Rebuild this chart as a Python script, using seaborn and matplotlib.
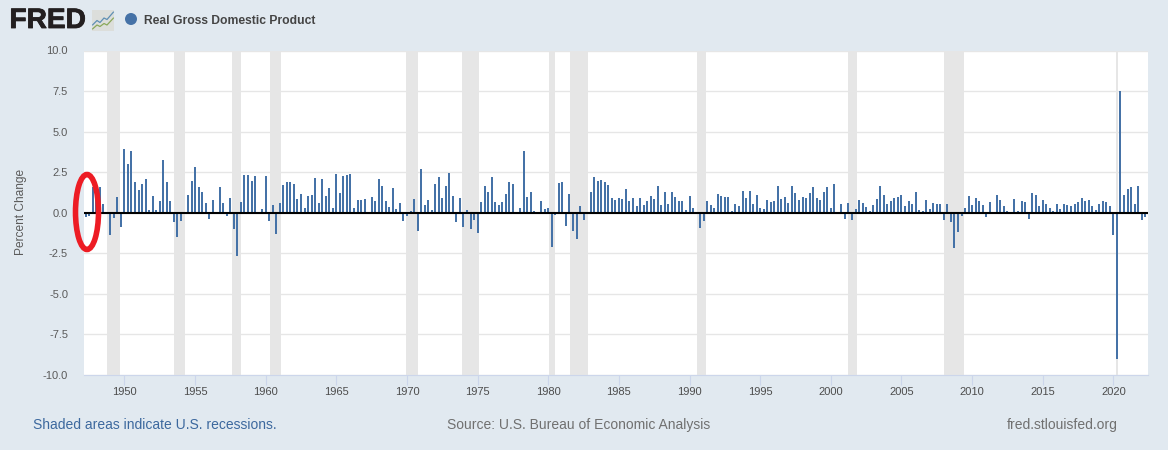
import matplotlib
matplotlib.use("Agg")
import matplotlib.pyplot as plt
import matplotlib.patheffects as pe
from matplotlib.patches import Ellipse, Rectangle, Circle
from matplotlib.lines import Line2D
import numpy as np
import pandas as pd
import seaborn as sns

SERIES_NAME = "Real Gross Domestic Product"
FIRST_QUARTER = "1947Q2"

# Quarter-over-quarter percent change, in chronological order
pct_1947_1968 = [
    -0.27, -0.20, 1.60, 1.50, 1.60, 0.55, 0.05, -1.40, -0.35, 1.00, -0.85,
    3.90, 3.00, 3.80, 1.90, 1.40, 1.75, 2.05, 0.20, 1.05, 0.20, 0.70, 3.25,
    1.90, 0.75, -0.60, -1.50, -0.50, 0.05, 1.10, 1.95, 2.85, 1.60, 1.30, 0.60,
    -0.40, 0.80, -0.10, 1.60, 0.60, -0.20, 0.90, -1.00, -2.65, 0.65, 2.30,
    2.30, 1.95, 2.25, 0.05, 0.25, 2.25, -0.50, 0.45, -1.30, 0.60, 1.70, 1.90,
    1.90, 1.75, 0.85, 1.15, 0.30, 1.05, 1.10, 2.15, 0.60, 2.10, 1.05, 1.55,
    0.30, 2.40, 1.20, 2.25, 2.30, 2.40, 0.30, 0.80, 0.80, 0.85, 0.05, 0.95,
    0.75, 2.05, 1.66, 0.75, 0.37,
]
pct_1969_1995 = [
    1.54, 0.25, 0.60, -0.50, -0.18, 0.12, 0.86, -1.10, 2.70, 0.49, 0.80, 0.18,
    1.78, 2.20, 0.92, 1.66, 2.46, 1.05, -0.55, 0.92, -0.86, 0.18, -0.98, -0.43,
    -1.23, 0.68, 1.66, 1.29, 2.20, 0.68, 0.49, 0.68, 1.17, 1.90, 1.78, 0.03,
    0.30, 3.80, 0.98, 1.29, 0.12, 0.03, 0.74, 0.25, 0.30, -2.10, -0.12, 1.84,
    1.90, -0.80, 1.17, -1.10, -1.60, 0.43, -0.43, 0.03, 1.29, 2.20, 1.97, 2.03,
    1.90, 1.72, 0.92, 0.80, 0.92, 0.86, 1.47, 0.74, 0.92, 0.43, 0.92, 0.49,
    0.74, 1.05, 0.86, 1.66, 0.49, 1.29, 0.55, 1.29, 0.98, 0.74, 0.74, 0.18,
    1.05, 0.30, 0.03, -0.92, -0.50, 0.74, 0.49, 0.30, 1.17, 1.05, 0.98, 0.98,
    0.12, 0.55, 0.43, 1.35, 0.92, 1.35, 0.55, 1.10, 0.30, 0.25, 0.80,
]
pct_1995_2022 = [
    0.68, 0.74, 1.66, 0.86, 0.98, 0.60, 1.66, 1.23, 0.80, 0.98, 0.92, 1.23,
    1.60, 0.92, 0.80, 1.29, 1.60, 0.30, 1.78, 0.03, 0.55, -0.37, 0.60, -0.43,
    0.25, 0.80, 0.60, 0.37, 0.12, 0.49, 0.86, 1.66, 1.10, 0.55, 0.74, 0.92,
    0.98, 1.10, 0.43, 0.74, 0.55, 1.29, 0.18, 0.12, 0.80, 0.25, 0.60, 0.55,
    0.55, -0.43, 0.55, -0.55, -2.20, -1.17, -0.18, 0.30, 1.05, 0.49, 0.92,
    0.74, 0.49, -0.25, 0.68, 0.03, 1.10, 0.80, 0.43, 0.12, 0.03, 0.86, 0.12,
    0.74, 0.68, -0.37, 1.23, 1.10, 0.43, 0.80, 0.55, 0.30, 0.12, 0.55, 0.25,
    0.55, 0.49, 0.43, 0.55, 0.68, 0.92, 0.74, 0.80, 0.43, 0.18, 0.55, 0.74,
    0.68, 0.43, -1.35, -9.00, 7.50, 1.10, 1.47, 1.60, 0.55, 1.66, -0.43, -0.25,
]
pct_change = pct_1947_1968 + pct_1969_1995 + pct_1995_2022

# Recession spans as decimal years (start, end)
recession_start = [1948.80, 1953.50, 1957.60, 1960.30, 1969.94, 1973.90, 1980.05,
                   1981.54, 1990.52, 2001.20, 2008.00, 2020.16]
recession_end = [1949.70, 1954.32, 1958.24, 1961.07, 1970.79, 1975.10, 1980.50,
                 1982.83, 1991.17, 2001.83, 2009.42, 2020.30]

y_ticks = [10.0, 7.5, 5.0, 2.5, 0.0, -2.5, -5.0, -7.5, -10.0]
x_ticks = list(range(1950, 2021, 5))

PAGE = "#e1e9f0"
BAR = "#4572a7"
SHADE = "#e6e6e6"
W, H = 1168, 450

sns.set_style("white")
plt.rcParams["font.family"] = ["Liberation Sans", "DejaVu Sans"]


def px_x(x):
    return x / W


def px_y(y):
    return 1 - y / H


quarters = pd.period_range(FIRST_QUARTER, periods=len(pct_change), freq="Q")
frame = pd.DataFrame({
    "year": quarters.year + (quarters.quarter - 1) / 4,
    "change": pct_change,
})

fig = plt.figure(figsize=(W / 100, H / 100), dpi=100, facecolor=PAGE)
ax = fig.add_axes([px_x(84), px_y(375), (1148 - 84) / W, (375 - 50.5) / H], facecolor="white")

for start, end in zip(recession_start, recession_end):
    ax.axvspan(start, end, color=SHADE, lw=0, zorder=0)

sns.barplot(data=frame, x="year", y="change", native_scale=True, color=BAR,
            saturation=1, width=0.5662, errorbar=None, linewidth=0, ax=ax, zorder=2)

ax.axhline(0, color="black", lw=1.5, zorder=3)
ax.set_xlim(1947.14, 2022.45)
ax.set_ylim(-10, 10)
ax.set_yticks(y_ticks, [f"{v:.1f}" for v in y_ticks])
ax.set_xticks(x_ticks, [str(v) for v in x_ticks])
ax.yaxis.grid(True, color=SHADE, lw=1.0, zorder=1)
ax.xaxis.grid(False)
ax.set_axisbelow(True)
for name in ("top", "left", "right"):
    ax.spines[name].set_visible(False)
ax.spines["bottom"].set_color("#ccd6eb")
ax.spines["bottom"].set_linewidth(0.8)
ax.tick_params(axis="x", length=7, width=0.8, color="#ccd6eb", labelcolor="#4d4d4d",
               labelsize=8.0, pad=1.5, bottom=True)
ax.tick_params(axis="y", length=0, labelcolor="#5a5a5a", labelsize=8.0, pad=11.5)
ax.set_xlabel("")
ax.set_ylabel("")

fig.text(px_x(21), px_y(212), "Percent Change", rotation=90, ha="center", va="center",
         color="#5a5a5a", fontsize=8.6)

# Legend entry in the header
fig.add_artist(Circle((131, H - 19), 6, transform=None, facecolor=BAR, edgecolor="none"))
fig.text(px_x(144), px_y(20.5), SERIES_NAME, ha="left", va="center", color="#444444",
         fontsize=8.75, fontweight="bold")

# Wordmark and its small line-chart badge
fig.text(px_x(9.5), px_y(21), "FRED", ha="left", va="center", color="#231f20",
         fontsize=20.2, fontweight="bold",
         path_effects=[pe.withStroke(linewidth=0.6, foreground="#231f20")])
fig.add_artist(Rectangle((92, H - 31), 22, 21, transform=None, facecolor="#dcdedb", edgecolor="none"))
badge_x = [92.5, 97, 100, 104, 107, 113.5]
fig.add_artist(Line2D(badge_x, [H - 25, H - 20.5, H - 22.5, H - 18, H - 19.5, H - 12],
                      transform=None, color="#5f8fb4", lw=0.9))
fig.add_artist(Line2D(badge_x, [H - 29, H - 25, H - 26.5, H - 23.5, H - 25, H - 18],
                      transform=None, color="#8aa85a", lw=0.9))

# Footer notes
fig.text(px_x(33), px_y(425), "Shaded areas indicate U.S. recessions.", ha="left", va="center",
         color="#3c689e", fontsize=10.0)
fig.text(px_x(447), px_y(425), "Source: U.S. Bureau of Economic Analysis", ha="left", va="center",
         color="#707070", fontsize=10.0)
fig.text(px_x(1117.5), px_y(425), "fred.stlouisfed.org", ha="right", va="center",
         color="#707070", fontsize=10.0)

# Red ring around the first quarters of the series
fig.add_artist(Ellipse((87, H - 212), 23, 75, transform=None, facecolor="none",
                       edgecolor="#ed1c24", lw=4.0, zorder=5))

fig.savefig("out.png", dpi=100, facecolor=PAGE)
